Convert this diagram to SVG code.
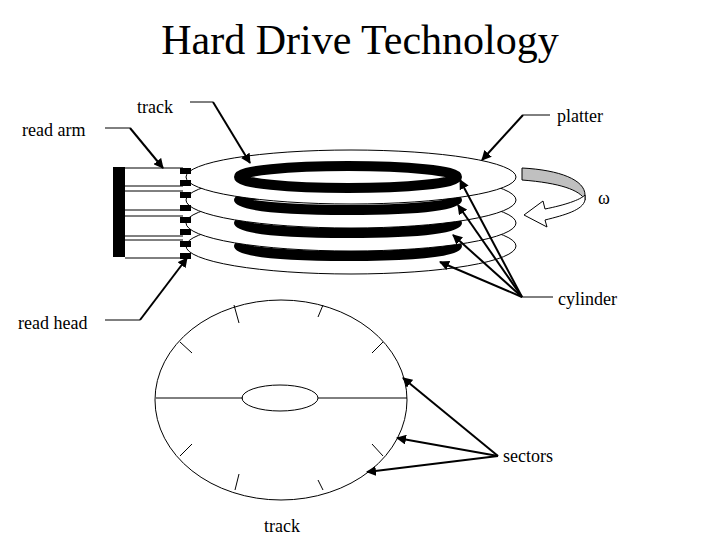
<svg xmlns="http://www.w3.org/2000/svg" width="720" height="540" viewBox="0 0 720 540">
<style>
text{font-family:"Liberation Serif","Times New Roman",serif;fill:#000}
.l{font-size:18px;font-family:"Liberation Serif","Times New Roman",serif}
.p{fill:#fff;stroke:#000;stroke-width:1}
.t{fill:none;stroke:#000;stroke-width:10}
.a{fill:none;stroke:#000;stroke-width:2;marker-end:url(#ah)}
.s{fill:none;stroke:#000;stroke-width:1}
</style>
<defs>
<marker id="ah" viewBox="0 0 10 10" refX="9" refY="5" markerWidth="5" markerHeight="5" orient="auto"><path d="M0,0L10,5L0,10z"/></marker>
</defs>
<rect width="720" height="540" fill="#fff"/>
<text x="360" y="54" font-size="42" text-anchor="middle">Hard Drive Technology</text>
<g id="platters">
<ellipse class="p" cx="351" cy="246" rx="165" ry="28"/>
<ellipse class="t" cx="348" cy="246" rx="109" ry="10"/>
<ellipse class="p" cx="351" cy="223" rx="165" ry="28"/>
<ellipse class="t" cx="348" cy="223" rx="109" ry="10"/>
<ellipse class="p" cx="351" cy="200" rx="165" ry="28"/>
<ellipse class="t" cx="348" cy="200" rx="109" ry="10"/>
<ellipse class="p" cx="351" cy="177" rx="165" ry="27"/>
<ellipse class="t" cx="348" cy="177" rx="109" ry="11"/>
</g>
<g id="arm">
<rect x="113" y="167" width="12" height="90"/>
<path class="s" d="M125,168H183M125,186H183M125,191H183M125,210H183M125,216H183M125,236H183M125,240H183M125,258H183"/>
<g>
<rect x="180" y="168" width="11" height="6"/><rect x="180" y="180" width="11" height="6"/>
<rect x="180" y="192" width="11" height="6"/><rect x="180" y="205" width="11" height="6"/>
<rect x="180" y="217" width="11" height="6"/><rect x="180" y="229" width="11" height="6"/>
<rect x="180" y="241" width="11" height="6"/><rect x="180" y="253" width="11" height="6"/>
</g>
</g>
<g id="omega">
<path d="M522,168C560,170 585,180 585,195L585,200C580,190 560,183 522,180Z" fill="#c0c0c0" stroke="#000" stroke-width="1"/>
<path d="M585,200C583,210 565,215 545,220L547,227L524,215L543,201L545,209C565,205 580,200 585,195Z" fill="#fff" stroke="#000" stroke-width="1"/>
<text x="598" y="204" class="l">ω</text>
</g>
<g id="disk">
<ellipse class="s" cx="281" cy="400" rx="126" ry="100"/>
<ellipse class="s" cx="280" cy="398" rx="38" ry="13"/>
<path class="s" d="M156,398H243M318,398H407M234,305L239,323M323,305L318,317M180,342L192,353M383,342L372,353M180,456L192,444M383,456L372,444M235,490L239,474M323,490L318,480"/>
</g>
<g id="connectors">
<path class="s" d="M105,128H130"/><path class="a" d="M130,128L163,168"/>
<path class="s" d="M190,102H213"/><path class="a" d="M213,102L250,163"/>
<path class="s" d="M550,115H523"/><path class="a" d="M523,115L482,160"/>
<path class="s" d="M553,297H522"/>
<path class="a" d="M522,297L460,180"/><path class="a" d="M522,297L458,205"/>
<path class="a" d="M522,297L453,235"/><path class="a" d="M522,297L440,262"/>
<path class="s" d="M105,320H140"/><path class="a" d="M140,320L187,258"/>
<path class="a" d="M498,456L403,378"/><path class="a" d="M498,456L397,438"/><path class="a" d="M498,456L367,472"/>
</g>
<g id="labels">
<text x="137" y="113" class="l">track</text>
<text x="557" y="122" class="l">platter</text>
<text x="22" y="136" class="l">read arm</text>
<text x="558" y="305" class="l">cylinder</text>
<text x="18" y="329" class="l">read head</text>
<text x="503" y="462" class="l">sectors</text>
<text x="264" y="532" class="l">track</text>
</g>
</svg>
